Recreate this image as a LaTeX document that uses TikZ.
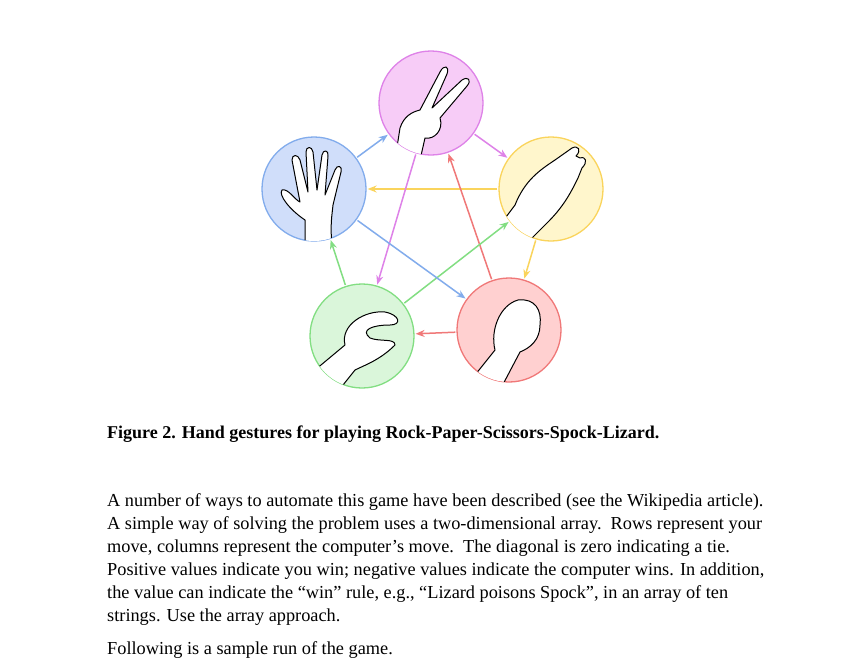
\documentclass[tikz,border=0pt]{standalone}
\usepackage{fontspec}
\setmainfont{Liberation Serif}
\usetikzlibrary{arrows.meta}
\definecolor{mf}{RGB}{247,204,247}\definecolor{ms}{RGB}{222,130,232}
\definecolor{yf}{RGB}{255,246,204}\definecolor{ys}{RGB}{250,212,92}
\definecolor{rf}{RGB}{255,208,208}\definecolor{rs}{RGB}{240,120,120}
\definecolor{gf}{RGB}{218,246,218}\definecolor{gs}{RGB}{130,222,130}
\definecolor{bf}{RGB}{208,222,250}\definecolor{bs}{RGB}{130,172,236}
\tikzset{gest/.style={circle,minimum size=104pt,inner sep=0pt,line width=1.3pt},
 arr/.style={-{Stealth[length=9pt,width=7pt]},line width=1.5pt,shorten >=1pt,shorten <=1pt},
 hand/.style={fill=white,draw=black,line width=1pt,line join=round},
 txt/.style={anchor=base west,inner sep=0pt,font=\fontsize{18.3}{21}\selectfont}}
\begin{document}
\begin{tikzpicture}[x=1pt,y=-1pt]
\useasboundingbox[fill=white] (0,0) rectangle (867,667);
\node[gest,fill=mf,draw=ms] (sc) at (431,103) {};
\node[gest,fill=yf,draw=ys] (pa) at (551,189) {};
\node[gest,fill=rf,draw=rs] (ro) at (509,330) {};
\node[gest,fill=gf,draw=gs] (li) at (362,336) {};
\node[gest,fill=bf,draw=bs] (sp) at (314,189) {};
% hands (simplified)
\begin{scope}
\clip (sc) circle (52pt);
\draw[hand] (395,160) -- (400,128) .. controls (404,116) and (412,112) .. (420,110) -- (440,72) .. controls (444,64) and (450,66) .. (447,74) -- (432,108) -- (462,80) .. controls (468,76) and (472,80) .. (467,86) -- (440,118) .. controls (444,130) and (434,140) .. (425,138) -- (420,160) -- cycle;
\end{scope}
\begin{scope}
\clip (pa) circle (52pt);
\draw[hand] (500,225) -- (515,205) .. controls (525,180) and (540,170) .. (555,160) -- (572,148) .. controls (578,145) and (582,150) .. (576,156) -- (580,158) .. controls (586,156) and (588,162) .. (582,168) -- (578,178) .. controls (572,190) and (565,205) .. (548,222) -- (530,240) -- cycle;
\end{scope}
\begin{scope}
\clip (ro) circle (52pt);
\draw[hand] (475,375) -- (495,350) .. controls (490,330) and (500,305) .. (518,300) .. controls (535,298) and (542,310) .. (540,325) .. controls (540,340) and (530,348) .. (520,352) -- (500,390) -- cycle;
\end{scope}
\begin{scope}
\clip (li) circle (52pt);
\draw[hand] (315,370) -- (345,345) .. controls (340,325) and (365,310) .. (385,312) .. controls (400,315) and (402,325) .. (390,325) .. controls (372,325) and (360,330) .. (370,338) .. controls (380,342) and (395,338) .. (395,345) .. controls (380,360) and (365,365) .. (355,370) -- (335,395) -- cycle;
\end{scope}
\begin{scope}
\clip (sp) circle (52pt);
\draw[hand] (305,245) -- (305,220) .. controls (290,210) and (278,195) .. (282,190) .. controls (288,188) and (295,200) .. (300,202) -- (292,160) .. controls (292,154) and (298,154) .. (300,160) -- (308,192) -- (306,152) .. controls (306,146) and (312,146) .. (313,152) -- (317,190) -- (322,155) .. controls (323,149) and (329,150) .. (328,156) -- (325,195) -- (335,170) .. controls (337,164) and (343,166) .. (341,172) -- (333,205) .. controls (332,215) and (330,225) .. (332,245) -- cycle;
\end{scope}
% arrows
\draw[arr,bs] (sp) -- (sc);
\draw[arr,ms] (sc) -- (pa);
\draw[arr,ys] (pa) -- (ro);
\draw[arr,rs] (ro) -- (li);
\draw[arr,gs] (li) -- (sp);
\draw[arr,ys] (pa) -- (sp);
\draw[arr,ms] (sc) -- (li);
\draw[arr,rs] (ro) -- (sc);
\draw[arr,gs] (li) -- (pa);
\draw[arr,bs] (sp) -- (ro);
% text
\node[txt,font=\fontsize{18}{21}\selectfont\bfseries] (cap) at (107,438) {Figure 2. Hand gestures for playing Rock-Paper-Scissors-Spock-Lizard.};
\node[txt] (l1) at (107,506) {A number of ways to automate this game have been described (see the Wikipedia article).};
\node[txt] (l2) at (107,529) {A simple way of solving the problem uses a two-dimensional array.\ \ Rows represent your};
\node[txt] (l3) at (107,552) {move, columns represent the computer’s move.\ \ The diagonal is zero indicating a tie.};
\node[txt] (l4) at (107,575) {Positive values indicate you win; negative values indicate the computer wins. In addition,};
\node[txt] (l5) at (107,598) {the value can indicate the “win” rule, e.g., “Lizard poisons Spock”, in an array of ten};
\node[txt] (l6) at (107,621) {strings. Use the array approach.};
\node[txt] (l7) at (107,654) {Following is a sample run of the game.};
\end{tikzpicture}
\end{document}
